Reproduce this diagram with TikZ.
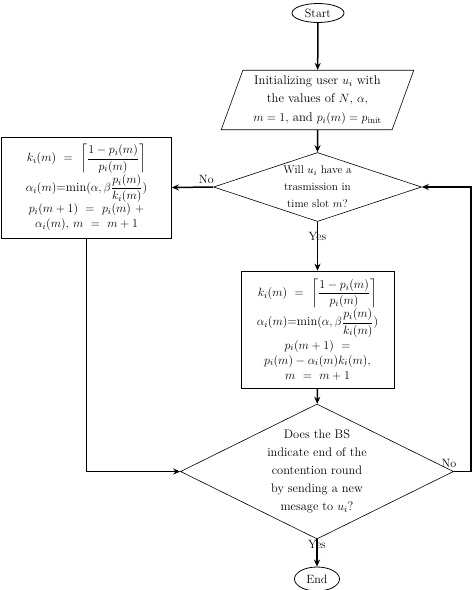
\documentclass[tikz,border=0pt]{standalone}
\usepackage{amsmath}
\usepackage{fontspec}
\usetikzlibrary{shapes.geometric}
\usetikzlibrary{arrows.meta}

\begin{document}
\begin{tikzpicture}[x=1pt,y=-1pt,font=\fontsize{12}{14.5}\selectfont,
E/.style={ellipse, draw=black, thick, minimum width=52pt, minimum height=19pt, inner sep=0pt},
P/.style={trapezium, trapezium left angle=70, trapezium right angle=110, draw=black, semithick, minimum width=193pt, minimum height=56pt, inner sep=2pt, align=center, font=\fontsize{12.6}{18.5}\selectfont},
B/.style={rectangle, draw=black, semithick, inner sep=2pt, align=center, font=\fontsize{12.5}{15}\selectfont},
D/.style={diamond, draw=black, semithick, inner sep=0pt},
lE/.style={line width=1.5pt,-{Stealth[length=7pt,width=6pt]}}]
%
\useasboundingbox (0,0) rectangle (473,590);

\node[E] at (318,13) (start) {Start};

\node[P] at (317.5,100) (init) {Initializing user $u_i$ with\\ the values of $N$, $\alpha$,\\ $m=1$, and $p_i(m)=p_{\text{init}}$};

\node[D, minimum width=208pt, minimum height=69pt] at (317.5,187) (q1) {};
\node[align=center, font=\fontsize{11.2}{17}\selectfont] at (q1) () {Will $u_i$ have a\\ trasmission in\\ time slot $m$?};

\node[B, minimum width=170pt, minimum height=101pt] at (86.5,187.5) (upd1) {%
$k_i(m)\ =\ \left\lceil\dfrac{1-p_i(m)}{p_i(m)}\right\rceil$\\
$\alpha_i(m)$=min$(\alpha,\beta\dfrac{p_i(m)}{k_i(m)})$\\
$p_i(m+1)\ =\ p_i(m)\ +$\\
$\alpha_i(m)$, $m\ =\ m+1$};

\node[B, minimum width=153pt, minimum height=117pt] at (317.5,329.5) (upd2) {%
$k_i(m)\ =\ \left\lceil\dfrac{1-p_i(m)}{p_i(m)}\right\rceil$\\
$\alpha_i(m)$=min$(\alpha,\beta\dfrac{p_i(m)}{k_i(m)})$\\[2pt]
$p_i(m+1)\ =$\\
$p_i(m)-\alpha_i(m)k_i(m)$,\\
$m\ =\ m+1$};

\node[D, minimum width=273pt, minimum height=135pt] at (317,471.5) (q2) {};
\node[align=center, font=\fontsize{12.4}{18}\selectfont] at (q2) () {Does the BS\\ indicate end of the\\ contention round\\ by sending a new\\ mesage to $u_i$?};

\node[E, minimum width=45pt, minimum height=24pt] at (317,579) (end) {End};

\coordinate (back) at (471,471.5);

\draw[lE] (start) -- (init);
\draw[lE] (init) -- (q1);
\draw[lE] (q1) -- (upd2) node[pos=0.3] {Yes};
\draw[lE] (upd2) -- (q2);
\draw[lE] (q2) -- (end) node[pos=0.2] {Yes};

\draw[lE] (q1.west) -- (upd1.east);
\node[anchor=south east] at ([xshift=4pt]q1.west) () {No};

\draw[lE] (upd1.south) |- (q2.west);

\draw[lE] (q2.east) -- (back) |- (q1.east);
\node[anchor=south east] at ([xshift=6pt]q2.east) () {No};

\end{tikzpicture}
\end{document}
